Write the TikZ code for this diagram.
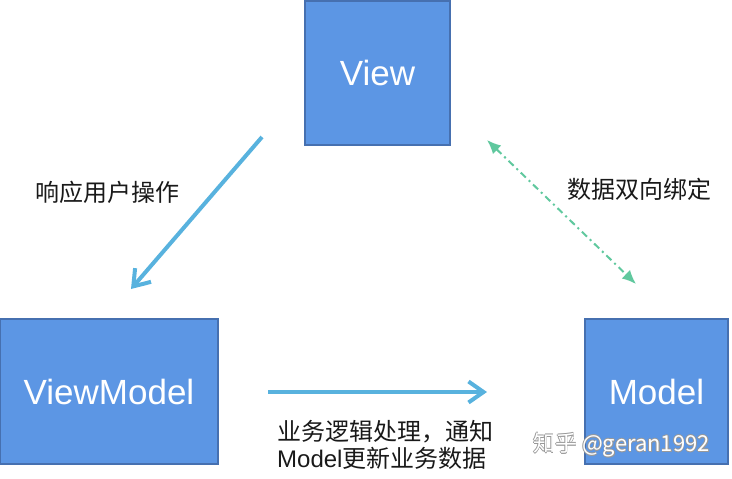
\documentclass[tikz,border=0pt]{standalone}
\usepackage{fontspec}
\setmainfont{Liberation Sans}
\newfontfamily\cjk{Noto Sans CJK SC}
\usetikzlibrary{arrows.meta}
\definecolor{boxfill}{RGB}{92,150,228}
\definecolor{boxline}{RGB}{70,112,176}
\definecolor{arrblue}{RGB}{88,178,222}
\definecolor{arrgreen}{RGB}{96,200,158}
\tikzset{
  mvbox/.style={draw=boxline, line width=1.6pt, fill=boxfill, text=white,
    font=\fontsize{35}{40}\selectfont, inner sep=0pt, outer sep=0pt},
  bluearrow/.style={draw=arrblue, line width=4pt,
    -{Straight Barb[length=15pt, width=21pt, line width=4pt]}},
  greenarrow/.style={draw=arrgreen, line width=2pt,
    dash pattern=on 7pt off 4pt on 2pt off 4pt,
    {Latex[length=14pt, width=12pt]}-{Latex[length=14pt, width=12pt]}},
  lbl/.style={font=\cjk\fontsize{24}{26.5}\selectfont, inner sep=0pt, text=black!90},
  wm/.style={font=\cjk\fontsize{22}{24}\selectfont, inner sep=0pt, anchor=west}
}
\begin{document}
\begin{tikzpicture}[x=1pt, y=-1pt]
\useasboundingbox (0,0) rectangle (732,479);
% boxes
\node[mvbox, minimum width=145pt, minimum height=144pt] (view) at (377.5,73) {View};
\node[mvbox, minimum width=218pt, minimum height=145pt] (vm) at (109,391.5) {ViewModel};
\node[mvbox, minimum width=143pt, minimum height=145pt] (model) at (656.5,391.5) {Model};
% connector end points
\coordinate (a1) at (262,137);
\coordinate (a2) at (131,289);
\coordinate (b1) at (268,392);
\coordinate (b2) at (487,392);
\coordinate (c1) at (487,140);
\coordinate (c2) at (636,284);
% connectors
\draw[bluearrow] (a1) -- (a2);
\draw[bluearrow] (b1) -- (b2);
\draw[greenarrow] (c1) -- (c2);
% labels
\node[lbl, anchor=west] (l1) at (35,192) {响应用户操作};
\node[lbl, anchor=west] (l2) at (567,189) {数据双向绑定};
\node[lbl, anchor=west, align=left] (l3) at (277,445)
  {业务逻辑处理，通知\\{\fontspec{Liberation Sans}Model}更新业务数据};
% watermark
\foreach \dx/\dy in {-0.7/0, 0.7/0, 0/-0.7, 0/0.7, 0.6/0.6}
  \node[wm, text=black!40] at (533+\dx,445+\dy) {知乎 @geran1992};
\node[wm, text=white] (wmk) at (533,445) {知乎 @geran1992};
\end{tikzpicture}
\end{document}
